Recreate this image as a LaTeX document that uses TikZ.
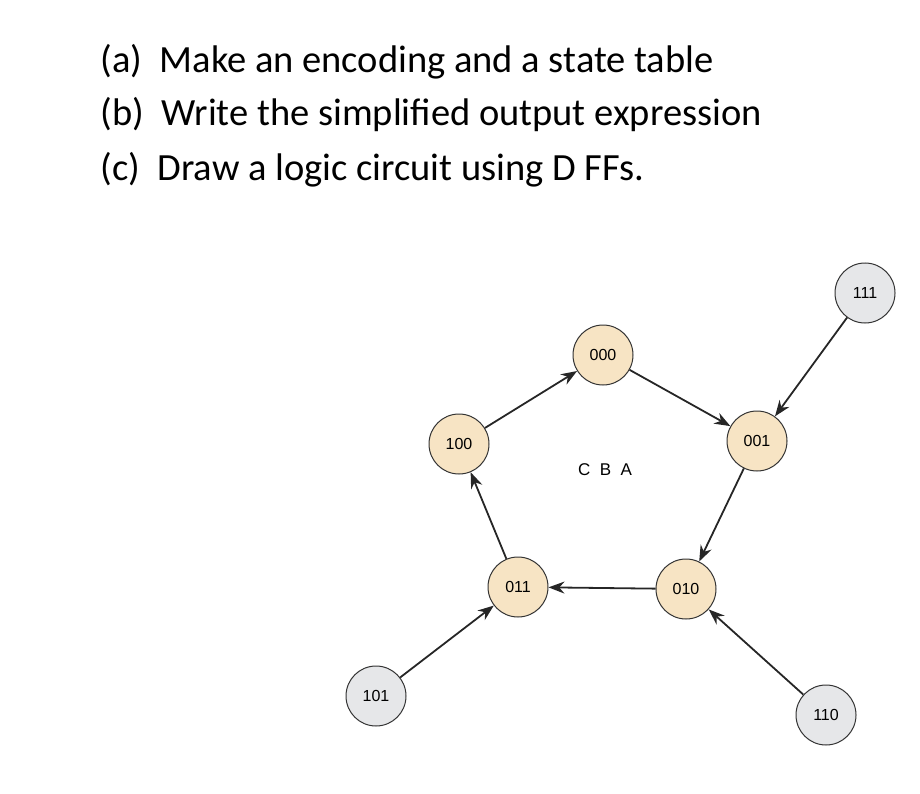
\documentclass[tikz,border=0pt]{standalone}
\usepackage{fontspec}
\setmainfont{Carlito}
\newfontfamily\nodefont{Liberation Sans}
\usetikzlibrary{arrows.meta}
\definecolor{beige}{HTML}{F7E4C4}
\definecolor{lgray}{HTML}{E6E7E9}
\begin{document}
\begin{tikzpicture}[x=1pt,y=-1pt,
  st/.style={circle,draw=black!80,line width=1pt,fill=beige,minimum size=60pt,inner sep=0pt,font=\nodefont\fontsize{16}{18}\selectfont},
  ex/.style={st,fill=lgray},
  ar/.style={-{Stealth[length=16pt,width=12pt]},line width=1.8pt,black!85},
  hd/.style={anchor=west,font=\fontsize{38.5}{44}\selectfont}]
\useasboundingbox (0,0) rectangle (920,794);
\node[hd] (ta) at (97,62) {(a)\ \ Make an encoding and a state table};
\node[hd] (tb) at (97,115) {(b)\ \ Write the simplified output expression};
\node[hd] (tc) at (97,170) {(c)\ \ Draw a logic circuit using D FFs.};
\node[st] (s000) at (603,355) {000};
\node[st] (s001) at (757,441) {001};
\node[st] (s100) at (459,444) {100};
\node[st] (s011) at (518,587) {011};
\node[st] (s010) at (686,589) {010};
\node[ex] (s111) at (865,293) {111};
\node[ex] (s101) at (376,696) {101};
\node[ex] (s110) at (826,715) {110};
\node[font=\nodefont\fontsize{17}{20}\selectfont] (lbl) at (605,470) {C\ \ B\ \ A};
\draw[ar] (s000) -- (s001);
\draw[ar] (s001) -- (s010);
\draw[ar] (s010) -- (s011);
\draw[ar] (s011) -- (s100);
\draw[ar] (s100) -- (s000);
\draw[ar] (s111) -- (s001);
\draw[ar] (s101) -- (s011);
\draw[ar] (s110) -- (s010);
\end{tikzpicture}
\end{document}
